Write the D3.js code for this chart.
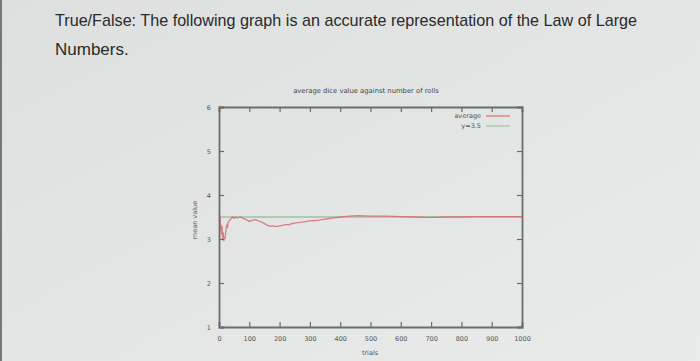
<!DOCTYPE html>
<html>
<head>
<meta charset="utf-8">
<script src="https://cdn.jsdelivr.net/npm/d3@7"></script>
<style>
  html, body { margin: 0; padding: 0; background: #e3e6e5; }
  svg { display: block; }
</style>
</head>
<body>
<div class="container-viewer"></div>
<script>
const trials = [1, 2, 3, 4, 5, 6, 8, 10, 12, 14, 16, 18, 20, 22, 25, 28, 30, 35, 40, 45, 50, 55, 60, 70, 80, 90,
  100, 110, 120, 130, 140, 150, 160, 170, 180, 190, 200, 210, 220, 230, 240, 260, 280, 300, 320, 340, 360, 380,
  400, 430, 460, 500, 550, 600, 650, 700, 750, 800, 850, 900, 950, 1000];
const averages = [3.6, 3.5, 3.3, 3.45, 3.2, 3.33, 3.1, 3.3, 3.0, 3.15, 2.95, 3.05, 3.0, 3.15, 3.3, 3.25, 3.38, 3.42, 3.46, 3.5, 3.47, 3.5, 3.48, 3.5, 3.47, 3.44,
  3.4, 3.43, 3.44, 3.41, 3.39, 3.35, 3.31, 3.29, 3.3, 3.28, 3.3, 3.31, 3.33, 3.32, 3.35, 3.37, 3.39, 3.41, 3.42, 3.44, 3.46, 3.48,
  3.5, 3.52, 3.53, 3.52, 3.52, 3.51, 3.5, 3.49, 3.5, 3.5, 3.51, 3.51, 3.51, 3.51];
const expected = 3.5;
const xTicks = [0, 100, 200, 300, 400, 500, 600, 700, 800, 900, 1000];
const yTicks = [1, 2, 3, 4, 5, 6];
const legendLabels = ['average', 'y=3.5'];
const questionLines = ['True/False: The following graph is an accurate representation of the Law of Large', 'Numbers.'];

const width = 700, height = 361;
const svg = d3.select('.container-viewer').append('svg').attr('width', width).attr('height', height);

// fondo tipo foto de pantalla
const defs = svg.append('defs');
const grad = defs.append('linearGradient').attr('id', 'bg').attr('x1', 0).attr('y1', 0).attr('x2', 1).attr('y2', 1);
grad.append('stop').attr('offset', '0%').attr('stop-color', '#dde0df');
grad.append('stop').attr('offset', '100%').attr('stop-color', '#e8ebea');
svg.append('rect').attr('width', width).attr('height', height).attr('fill', 'url(#bg)');
svg.append('rect').attr('x', 0).attr('y', 0).attr('width', 2).attr('height', height).attr('fill', '#777');

// texto de la pregunta
svg.selectAll('text.q').data(questionLines).enter().append('text')
  .attr('class', 'q')
  .attr('x', 55)
  .attr('y', (d, i) => 26 + i * 29)
  .attr('font-family', 'Liberation Sans, Arial, sans-serif')
  .attr('font-size', 17)
  .attr('fill', '#2a2a2a')
  .attr('textLength', (d, i) => i === 0 ? 582 : null)
  .attr('lengthAdjust', 'spacingAndGlyphs')
  .text(d => d);

// grafico
const m = { left: 219, right: 522, top: 107, bottom: 327 };
const x = d3.scaleLinear().domain([0, 1000]).range([m.left, m.right]);
const y = d3.scaleLinear().domain([1, 6]).range([m.bottom, m.top]);
const axisColor = '#6b6d6c', txtColor = '#555';
const fontSmall = 'DejaVu Sans, sans-serif';

const g = svg.append('g');

const line = d3.line().x(d => x(d[0])).y(d => y(d[1]));
g.append('path').datum([[0, expected], [1000, expected]]).attr('d', line)
  .attr('fill', 'none').attr('stroke', '#9fc2a3').attr('stroke-width', 1.6);
g.append('path').datum(trials.map((t, i) => [t, averages[i]])).attr('d', line)
  .attr('fill', 'none').attr('stroke', '#d9656a').attr('stroke-width', 1.3).attr('opacity', 0.8);

// ejes con ticks hacia dentro en los cuatro lados
const fmt = d3.format('d');
const axBottom = g.append('g').attr('transform', `translate(0,${m.bottom})`)
  .call(d3.axisBottom(x).tickValues(xTicks).tickSize(-5).tickPadding(9).tickFormat(fmt));
const axTop = g.append('g').attr('transform', `translate(0,${m.top})`)
  .call(d3.axisTop(x).tickValues(xTicks).tickSize(-5).tickFormat(''));
const axLeft = g.append('g').attr('transform', `translate(${m.left},0)`)
  .call(d3.axisLeft(y).tickValues(yTicks).tickSize(-5).tickPadding(8).tickFormat(fmt));
const axRight = g.append('g').attr('transform', `translate(${m.right},0)`)
  .call(d3.axisRight(y).tickValues(yTicks).tickSize(-5).tickFormat(''));
[axBottom, axTop, axLeft, axRight].forEach(a => {
  a.select('.domain').attr('stroke', axisColor).attr('stroke-width', 1.8);
  a.selectAll('.tick line').attr('stroke', axisColor).attr('stroke-width', 1.2);
  a.selectAll('text').attr('fill', txtColor).attr('font-family', fontSmall).attr('font-size', 6.5);
});

// titulos
g.append('text').attr('x', 366).attr('y', 93).attr('text-anchor', 'middle')
  .attr('font-family', fontSmall).attr('font-size', 6.8).attr('fill', '#444')
  .text('average dice value against number of rolls');
g.append('text').attr('x', 370).attr('y', 355).attr('text-anchor', 'middle')
  .attr('font-family', fontSmall).attr('font-size', 6.5).attr('fill', txtColor).text('trials');
g.append('text').attr('transform', 'translate(197,220) rotate(-90)').attr('text-anchor', 'middle')
  .attr('font-family', fontSmall).attr('font-size', 6.5).attr('fill', '#666').text('mean value');

// leyenda
const legendColors = ['#df6a6c', '#9fc2a3'];
const leg = g.selectAll('g.leg').data(legendLabels).enter().append('g').attr('class', 'leg')
  .attr('transform', (d, i) => `translate(0,${116 + i * 10})`);
leg.append('text').attr('x', 481).attr('y', 2).attr('text-anchor', 'end')
  .attr('font-family', fontSmall).attr('font-size', 6.5).attr('fill', '#555').text(d => d);
leg.append('line').attr('x1', 486).attr('x2', 510).attr('y1', 0).attr('y2', 0)
  .attr('stroke', (d, i) => legendColors[i]).attr('stroke-width', 1.2);
</script>
</body>
</html>
